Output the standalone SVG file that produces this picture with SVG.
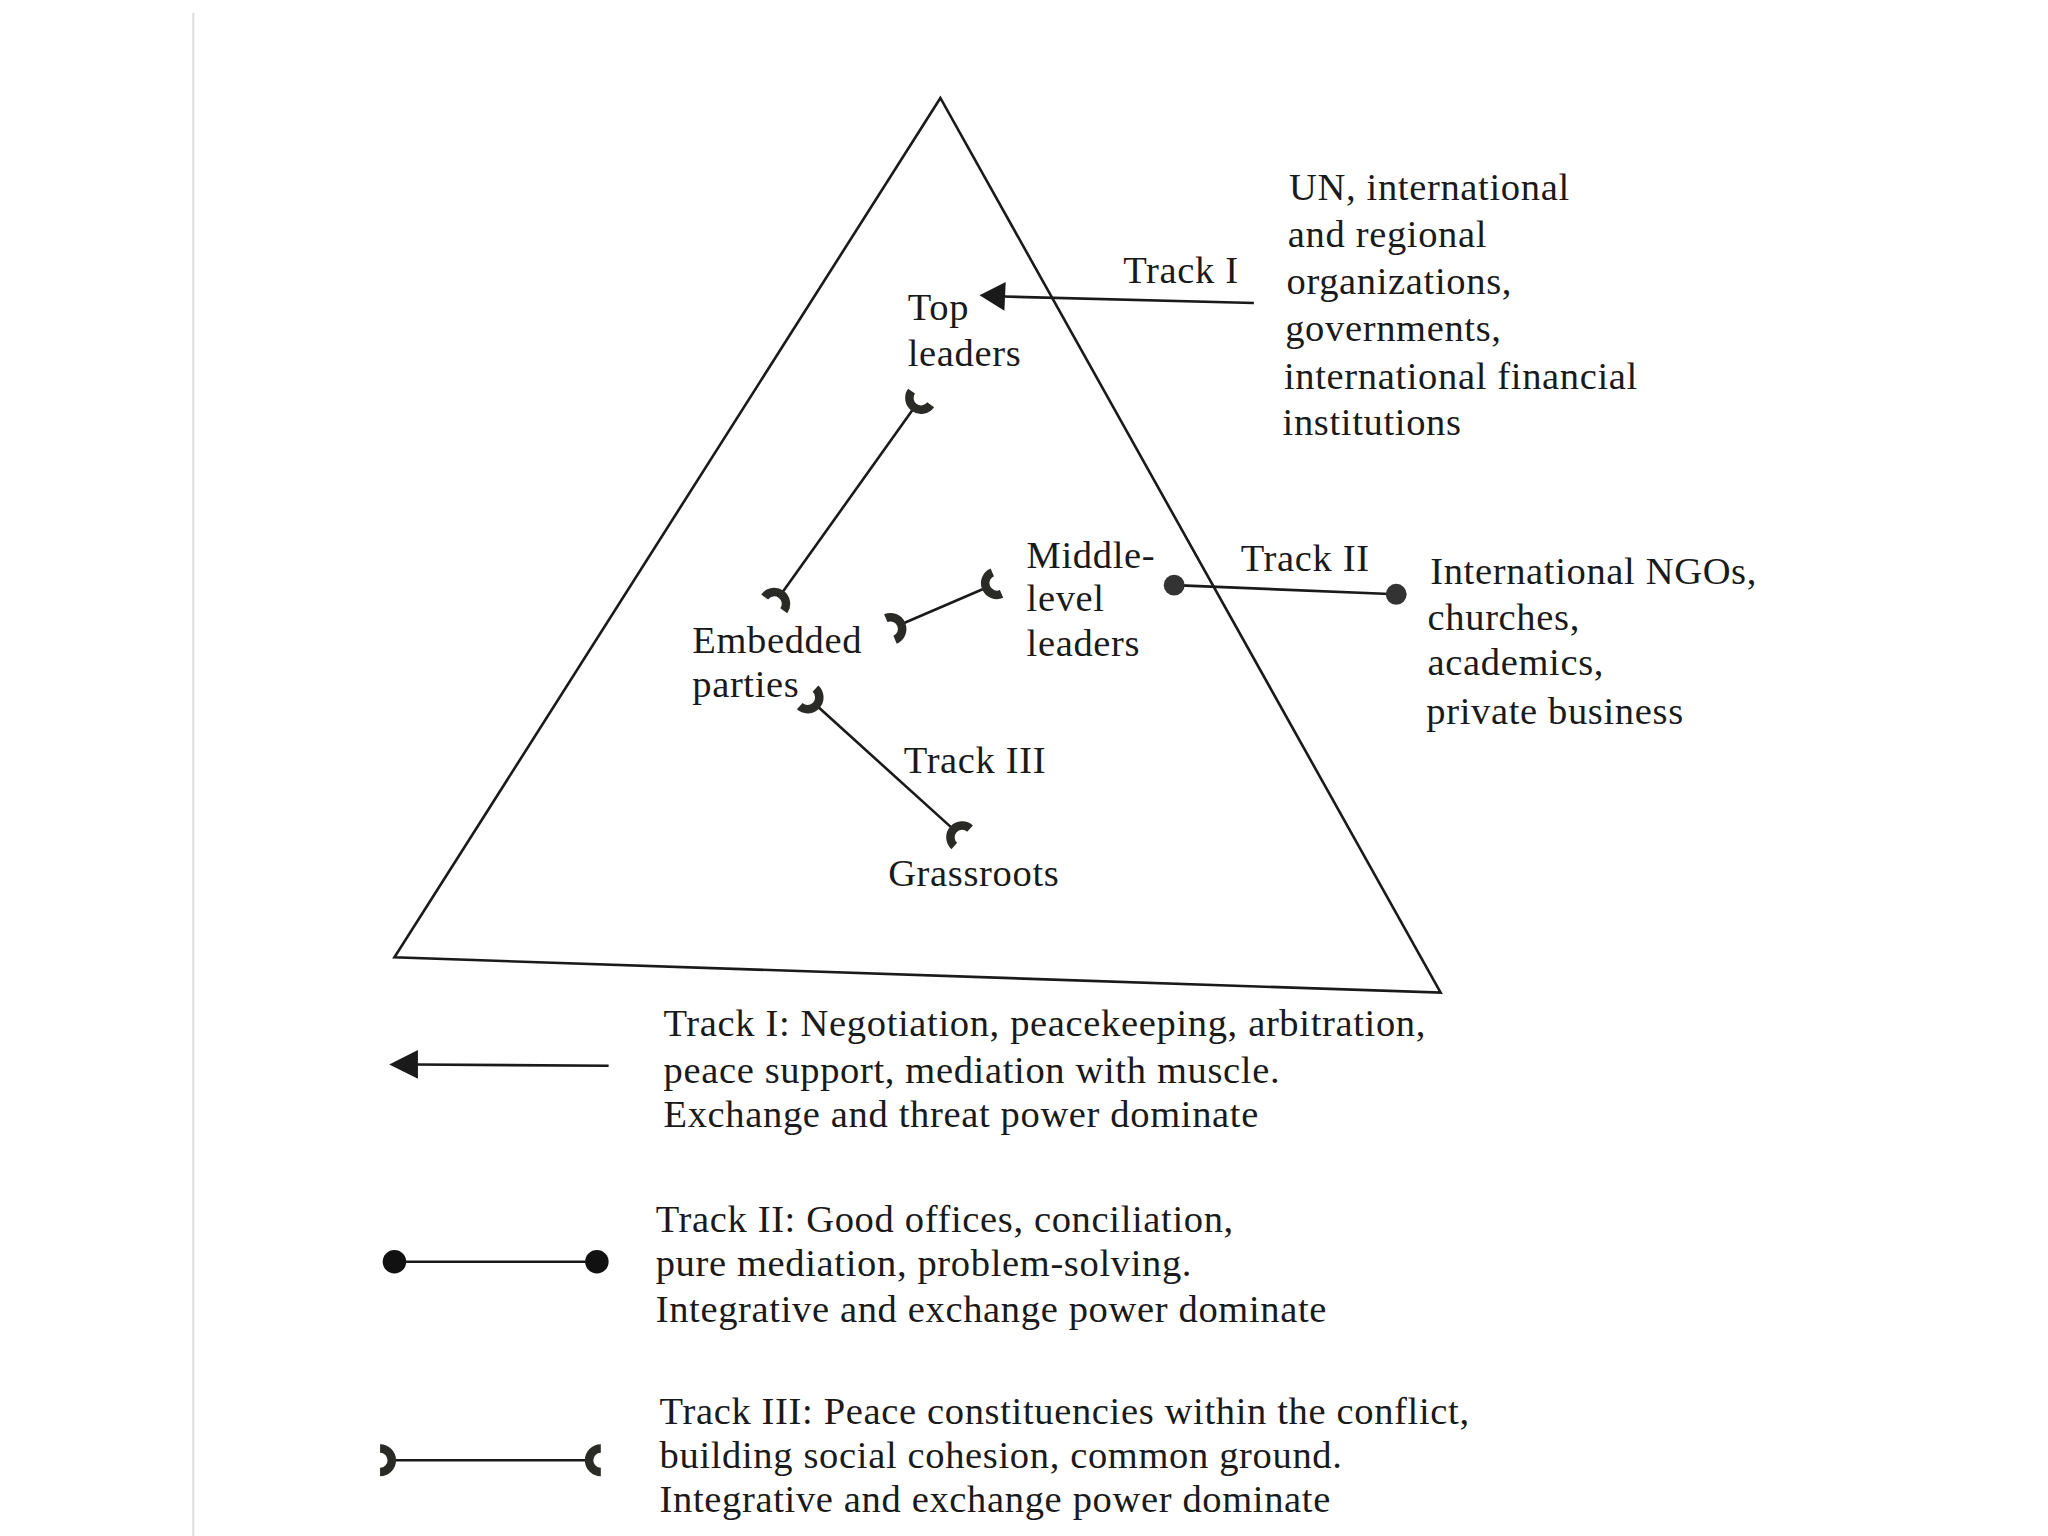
<svg xmlns="http://www.w3.org/2000/svg" xmlns:xlink="http://www.w3.org/1999/xlink" width="2048" height="1536" viewBox="0 0 2048 1536">
<style>
text{font-family:"Liberation Serif","Times New Roman",serif;font-size:29.5px;letter-spacing:0.5px;fill:#1a1a1a}
.ln{stroke:#1a1a1a;stroke-width:2;fill:none}
.hk{stroke:#2a2a26;stroke-width:6.5;fill:none}
</style>
<defs>
<path id="hook" class="hk" d="M9,-9 A9,9 0 0 0 9,9"/>
</defs>
<rect width="2048" height="1536" fill="#fff"/>
<g transform="scale(1.3061)">
<line x1="148" y1="10" x2="148" y2="1176" stroke="#ddd" stroke-width="1.5"/>
<g id="pyramid"><polygon class="ln" points="720,75 302,733 1103,760"/></g>
<g id="connectors">
<line class="ln" x1="960" y1="232" x2="768" y2="227"/>
<path d="M750,226 L770,216 L769,238 Z" fill="#1a1a1a"/>
<line class="ln" x1="700" y1="312" x2="598" y2="455"/>
<use href="#hook" transform="translate(700,312) rotate(-54.5)"/>
<use href="#hook" transform="translate(598,455) rotate(125.5)"/>
<line class="ln" x1="690" y1="478" x2="755" y2="450"/>
<use href="#hook" transform="translate(755,450) rotate(-23.3)"/>
<use href="#hook" transform="translate(690,478) rotate(156.7)"/>
<line class="ln" x1="625" y1="540" x2="730" y2="635"/>
<use href="#hook" transform="translate(730,635) rotate(42.1)"/>
<use href="#hook" transform="translate(625,540) rotate(-137.9)"/>
<line class="ln" x1="899" y1="448" x2="1069" y2="455"/>
<circle cx="899" cy="448" r="8" fill="#333"/>
<circle cx="1069" cy="455" r="8" fill="#333"/>
</g>
<g id="labels">
<text x="860" y="217">Track I</text>
<text x="950" y="437">Track II</text>
<text x="692" y="592">Track III</text>
</g>
<g id="top"><text x="695" y="245">Top</text><text x="695" y="280">leaders</text></g>
<g id="middle"><text x="786" y="435">Middle-</text><text x="786" y="468">level</text><text x="786" y="502">leaders</text></g>
<g id="embedded"><text x="530" y="500">Embedded</text><text x="530" y="534">parties</text></g>
<g id="grassroots"><text x="680" y="678">Grassroots</text></g>
<g id="track1src">
<text x="987" y="153">UN, international</text>
<text x="986" y="189">and regional</text>
<text x="985" y="225">organizations,</text>
<text x="984" y="261">governments,</text>
<text x="983" y="298">international financial</text>
<text x="982" y="333">institutions</text>
</g>
<g id="track2src">
<text x="1095" y="447">International NGOs,</text>
<text x="1093" y="482">churches,</text>
<text x="1093" y="517">academics,</text>
<text x="1092" y="554">private business</text>
</g>
<g id="legend1">
<line class="ln" x1="466" y1="816" x2="318" y2="815"/>
<path d="M298,815 L320,804 L320,826 Z" fill="#1a1a1a"/>
<text x="508" y="793">Track I: Negotiation, peacekeeping, arbitration,</text>
<text x="508" y="829">peace support, mediation with muscle.</text>
<text x="508" y="863">Exchange and threat power dominate</text>
</g>
<g id="legend2">
<line class="ln" x1="302" y1="966" x2="457" y2="966"/>
<circle cx="302" cy="966" r="9" fill="#111"/>
<circle cx="457" cy="966" r="9" fill="#111"/>
<text x="502" y="943">Track II: Good offices, conciliation,</text>
<text x="502" y="977">pure mediation, problem-solving.</text>
<text x="502" y="1012">Integrative and exchange power dominate</text>
</g>
<g id="legend3">
<line class="ln" x1="300" y1="1118" x2="451" y2="1118"/>
<use href="#hook" transform="translate(300,1118) rotate(180)"/>
<use href="#hook" transform="translate(451,1118)"/>
<text x="505" y="1090">Track III: Peace constituencies within the conflict,</text>
<text x="505" y="1124">building social cohesion, common ground.</text>
<text x="505" y="1158">Integrative and exchange power dominate</text>
</g>
</g>
</svg>
